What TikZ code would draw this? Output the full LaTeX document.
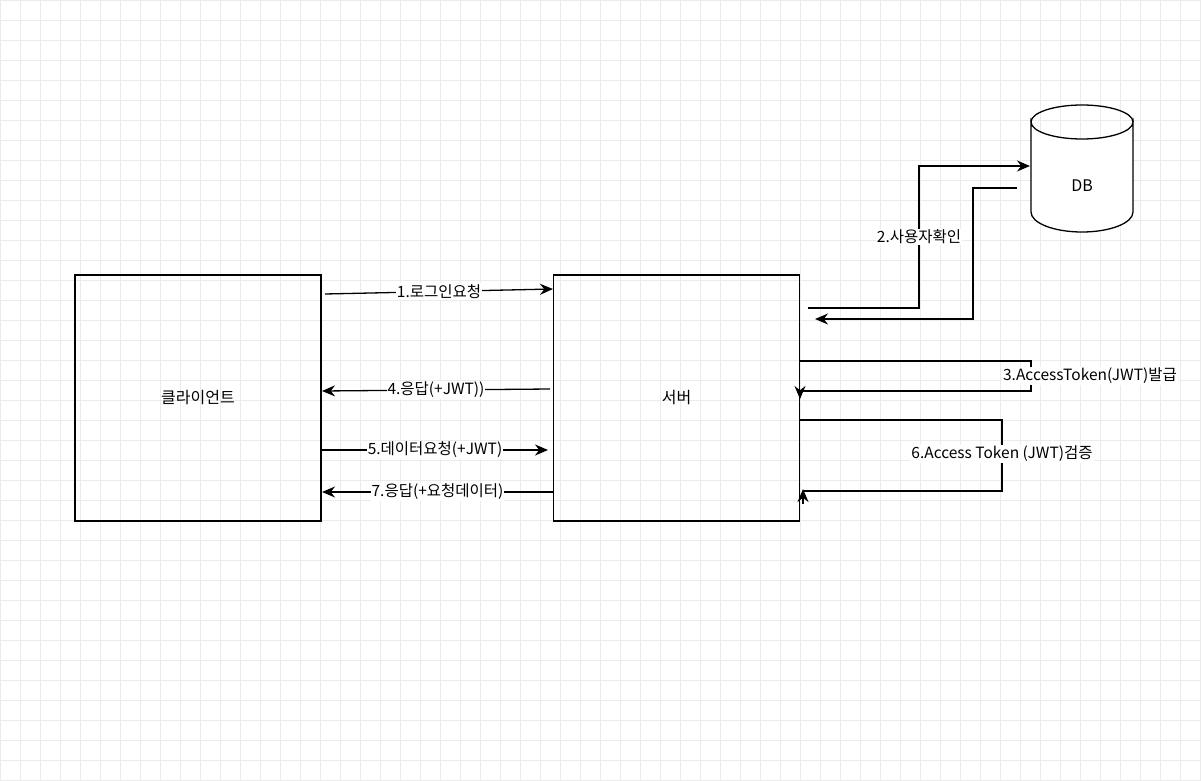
\documentclass[tikz,border=0pt]{standalone}
\usepackage{fontspec}
\setmainfont{Noto Sans CJK KR}
\usetikzlibrary{arrows.meta}
\begin{document}
\begin{tikzpicture}[x=1pt,y=-1pt,
  box/.style={draw,line width=1.3pt,minimum width=246pt,minimum height=246pt,font=\fontsize{16}{18}\selectfont},
  con/.style={line width=1.3pt,-{Stealth[length=13pt,width=11pt]}},
  lab/.style={fill=white,inner sep=1pt,font=\fontsize{15.5}{18}\selectfont}]
\useasboundingbox (0,0) rectangle (1201,781);
\fill[white] (0,0) rectangle (1201,781);
\foreach \i in {0,20,...,1200} \draw[black!8,line width=0.6pt] (\i,0) -- (\i,781);
\foreach \j in {0,20,...,780} \draw[black!8,line width=0.6pt] (0,\j) -- (1201,\j);
\node[box] (cl) at (198,398) {클라이언트};
\node[box] (sv) at (676.5,398) {서버};
\draw[line width=1.3pt,fill=white] (1031,122) arc[start angle=180,end angle=360,x radius=51,y radius=-17] -- (1133,212) arc[start angle=0,end angle=-180,x radius=51,y radius=-20] -- cycle;
\draw[line width=1.3pt] (1031,122) arc[start angle=180,end angle=0,x radius=51,y radius=-17];
\node[font=\fontsize{16}{18}\selectfont] (db) at (1082,186) {DB};
\coordinate (a1) at (325,294); \coordinate (b1) at (553,289);
\draw[con] (a1) -- node[lab]{1.로그인요청} (b1);
\coordinate (a4) at (550,389); \coordinate (b4) at (322,391);
\draw[con] (a4) -- node[lab]{4.응답(+JWT))} (b4);
\coordinate (a5) at (322,450); \coordinate (b5) at (548,450);
\draw[con] (a5) -- node[lab]{5.데이터요청(+JWT)} (b5);
\coordinate (a7) at (553,492); \coordinate (b7) at (322,492);
\draw[con] (a7) -- node[lab]{7.응답(+요청데이터)} (b7);
\coordinate (a2) at (808,308); \coordinate (b2) at (1030,166);
\draw[con] (a2) -- (919,308) -- node[lab,pos=0.5]{2.사용자확인} (919,166) -- (b2);
\coordinate (a2b) at (1017,188); \coordinate (b2b) at (815,319);
\draw[con] (a2b) -- (973,188) -- (973,319) -- (b2b);
\coordinate (a3) at (800,361); \coordinate (b3) at (800,399);
\draw[con] (a3) -- (1031,361) -- (1031,391) -- (800,391) -- (b3);
\node[lab] at (1090,376) {3.AccessToken(JWT)발급};
\coordinate (a6) at (800,420); \coordinate (c6) at (803,491); \coordinate (b6) at (803,489);
\draw[line width=1.3pt] (a6) -- (1002,420) -- (1002,491) -- (c6);
\draw[con] (803,504) -- (b6);
\node[lab] at (1002,454) {6.Access Token (JWT)검증};
\end{tikzpicture}
\end{document}
